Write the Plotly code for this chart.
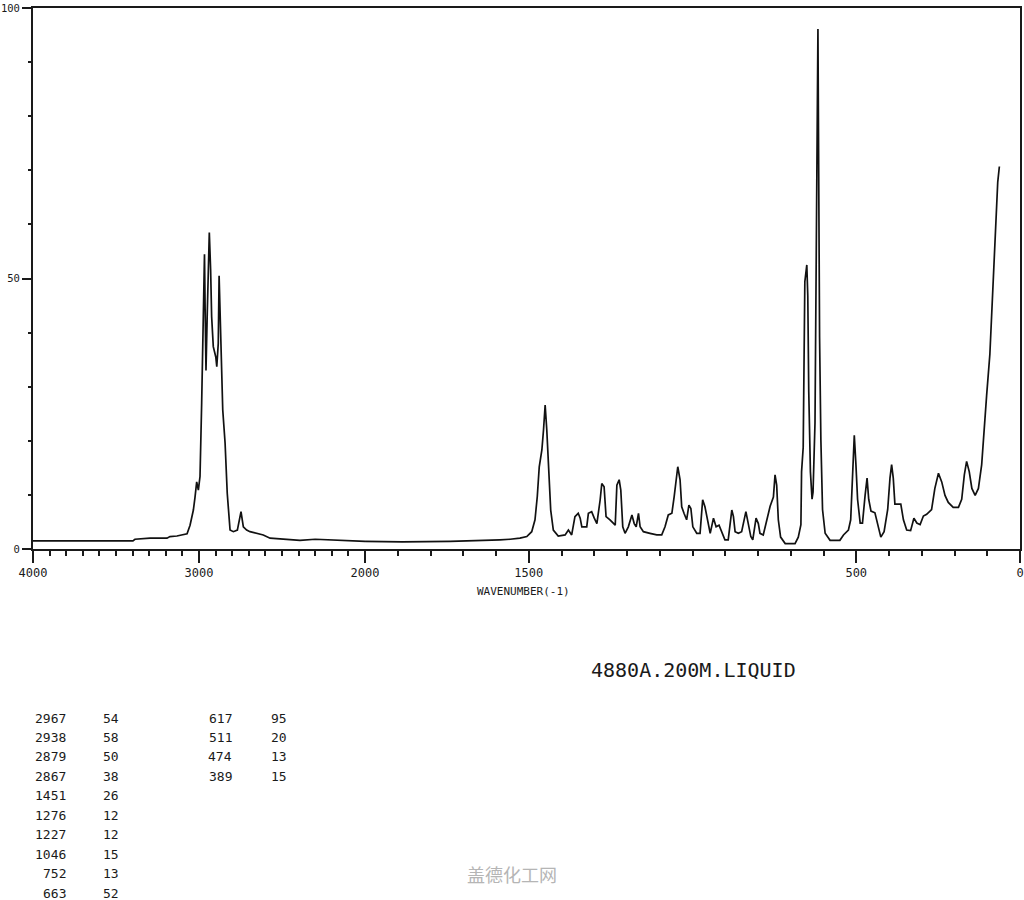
import plotly.graph_objects as go

# ---------------- data ----------------
wavenumber = [
    4000, 3398, 3386, 3313, 3295, 3193, 3175, 3133, 3096, 3072, 3054, 3034, 3024, 3014, 3004,
    2994, 2984, 2974, 2967, 2963, 2958, 2950, 2938, 2930, 2924, 2914, 2899, 2893, 2884, 2879,
    2869, 2857, 2843, 2830, 2813, 2793, 2769, 2747, 2733, 2713, 2693, 2613, 2572, 2452, 2392,
    2300, 2211, 2090, 2000,
    1886, 1740, 1649, 1588, 1557, 1527, 1506, 1491, 1481, 1474, 1468, 1460, 1455, 1450, 1445,
    1440, 1433, 1425, 1410, 1389, 1379, 1369, 1359, 1349, 1343, 1338, 1323, 1318, 1308, 1300,
    1292, 1282, 1277, 1270, 1264, 1252, 1236, 1231, 1224, 1219, 1213, 1206, 1196, 1185, 1178,
    1172, 1165, 1160, 1150, 1130, 1109, 1094, 1084, 1074, 1063, 1056, 1045, 1038, 1033, 1026,
    1018, 1011, 1005, 999, 987, 977, 969, 962, 955, 946, 936, 928, 919, 911, 901,
    891, 880, 875, 870, 860, 850, 837, 829, 822, 816, 806, 799, 794, 784, 773,
    763, 753, 748, 743, 738, 731, 717, 687, 677, 669, 667, 662, 657, 651, 648,
    645, 640, 635, 632, 626, 621, 617, 612, 608, 603, 595, 580, 550, 539, 524,
    517, 511, 506, 501, 496, 488, 481, 473, 467, 462, 455, 443, 434, 425, 415,
    404, 397, 392, 387, 382, 364, 356, 346, 334, 324, 315, 305, 295, 285, 270,
    260, 249, 239, 229, 219, 204, 188, 178, 170, 163, 155, 147, 137, 127, 117,
    112, 102, 92, 82, 73, 68, 63,
]
intensity = [
    1.5, 1.5, 1.8, 1.9, 2.0, 2.0, 2.3, 2.4, 2.6, 2.8, 4.4, 7.2, 9.6, 12.4, 10.9,
    13.4, 27.0, 44.0, 54.5, 44.0, 33.0, 44.0, 58.5, 51.6, 43.0, 37.4, 35.5, 33.7, 38.0, 50.5,
    37.5, 25.7, 19.6, 10.3, 3.5, 3.2, 3.5, 6.9, 4.1, 3.5, 3.2, 2.6, 2.0, 1.8, 1.6,
    1.8, 1.7, 1.5, 1.4,
    1.3, 1.4, 1.5, 1.7, 1.8, 2.0, 2.3, 3.2, 5.4, 9.7, 15.2, 18.3, 22.0, 26.6, 22.0,
    15.2, 7.2, 3.5, 2.4, 2.6, 3.5, 2.6, 6.0, 6.6, 5.7, 4.1, 4.1, 6.6, 6.9, 5.7,
    4.7, 9.1, 12.1, 11.5, 6.0, 5.4, 4.4, 11.8, 12.8, 10.9, 4.1, 2.9, 4.1, 6.3, 4.7,
    4.1, 6.6, 4.1, 3.2, 2.9, 2.6, 2.6, 4.1, 6.3, 6.6, 9.7, 15.2, 12.8, 7.8, 6.6,
    5.4, 8.1, 7.5, 4.1, 2.9, 2.9, 9.1, 7.8, 5.4, 2.9, 5.7, 4.1, 4.4, 3.2, 1.7,
    1.7, 7.2, 6.0, 3.2, 2.9, 3.2, 6.9, 4.7, 2.3, 1.7, 5.7, 4.7, 2.9, 2.6, 5.7,
    7.9, 9.6, 13.7, 11.8, 5.4, 2.2, 1.0, 1.0, 2.2, 4.5, 14.3, 18.8, 49.4, 52.5, 46.8,
    29.0, 14.3, 9.2, 10.5, 23.3, 63.3, 96.1, 39.2, 20.1, 7.3, 2.9, 1.6, 1.6, 2.6, 3.5,
    5.4, 15.6, 21.0, 15.6, 9.2, 4.8, 4.8, 9.9, 13.1, 9.2, 7.0, 6.7, 4.2, 2.2, 3.2,
    7.3, 13.1, 15.6, 13.1, 8.3, 8.3, 5.4, 3.5, 3.4, 5.7, 4.8, 4.5, 6.1, 6.4, 7.3,
    11.2, 14.0, 12.4, 9.9, 8.6, 7.7, 7.7, 9.2, 13.7, 16.2, 14.3, 11.2, 9.9, 11.2, 15.6,
    20.1, 28.3, 36.0, 48.7, 60.2, 67.8, 70.7,
]

peak_wn_left = ["2967", "2938", "2879", "2867", "1451", "1276", "1227", "1046", "752", "663"]
peak_int_left = ["54", "58", "50", "38", "26", "12", "12", "15", "13", "52"]
peak_wn_right = ["617", "511", "474", "389"]
peak_int_right = ["95", "20", "13", "15"]

x_ticks_high = [4000, 3000, 2000]
x_ticks_low = [1500, 500, 0]
y_ticks = [0, 50, 100]

sample_label = "4880A.200M.LIQUID"
x_title = "WAVENUMBER(-1)"
watermark = "盖德化工网"

# ---------------- figure ----------------
MONO = "DejaVu Sans Mono, Liberation Mono, monospace"
INK = "#1a1a1a"
split = 0.3364  # 2000 cm-1 break in the plotted scale

hi_x = [w for w in wavenumber if w >= 2000]
hi_y = [v for w, v in zip(wavenumber, intensity) if w >= 2000]
lo_x = [w for w in wavenumber if w <= 2000]
lo_y = [v for w, v in zip(wavenumber, intensity) if w <= 2000]

fig = go.Figure()
fig.add_trace(go.Scatter(x=hi_x, y=hi_y, mode="lines", xaxis="x", yaxis="y",
                         line=dict(color="#111111", width=1.7), hoverinfo="skip"))
fig.add_trace(go.Scatter(x=lo_x, y=lo_y, mode="lines", xaxis="x2", yaxis="y2",
                         line=dict(color="#111111", width=1.7), hoverinfo="skip"))

tickfont = dict(family=MONO, size=12, color=INK)
base = dict(showline=True, linewidth=2, linecolor=INK, showgrid=False, zeroline=False,
            automargin=False, tickcolor=INK, tickwidth=1.5)
minor_x = dict(ticks="outside", dtick=100, tick0=0, ticklen=5, tickwidth=1.5, tickcolor=INK)

fig.update_layout(
    template="none",
    width=1024, height=900,
    margin=dict(l=33, r=4, t=8, b=351, pad=0),
    paper_bgcolor="white", plot_bgcolor="white",
    showlegend=False,
    xaxis=dict(domain=[0, split], range=[4000, 2000], anchor="y", mirror=True,
               ticks="outside", ticklen=12, tickmode="array", tickvals=x_ticks_high,
               ticktext=[str(v) for v in x_ticks_high], minor=minor_x,
               tickfont=tickfont, **base),
    xaxis2=dict(domain=[split, 1], range=[2000, 0], anchor="y", mirror=True,
                ticks="outside", ticklen=12, tickmode="array", tickvals=x_ticks_low,
                ticktext=[str(v) for v in x_ticks_low], minor=minor_x,
                tickfont=tickfont, **base),
    yaxis=dict(domain=[0, 1], range=[0, 100], anchor="x", side="left", mirror=False,
               ticks="outside", ticklen=9, tickmode="array", tickvals=y_ticks,
               ticktext=[str(v) for v in y_ticks],
               tickfont=dict(family=MONO, size=10.5, color=INK),
               minor=dict(ticks="outside", dtick=10, tick0=0, ticklen=3,
                          tickwidth=1.5, tickcolor=INK),
               **base),
    yaxis2=dict(domain=[0, 1], range=[0, 100], anchor="x2", side="right",
                overlaying="y", mirror=False, ticks="", showticklabels=False, **base),
)

# plot area in page pixels: x 33..1020, y 8..549
def px_x(px):
    return (px - 33) / 987.0

def px_y(py):
    return (549 - py) / 541.0

annotations = []
annotations.append(dict(text=x_title, x=px_x(523), y=px_y(591), xref="paper", yref="paper",
                        showarrow=False, xanchor="center", yanchor="middle",
                        font=dict(family=MONO, size=11, color=INK)))
annotations.append(dict(text=sample_label, x=px_x(693), y=px_y(670), xref="paper", yref="paper",
                        showarrow=False, xanchor="center", yanchor="middle",
                        font=dict(family=MONO, size=20, color=INK)))
row0, row_step = 718, 19.45
for i, (w, v) in enumerate(zip(peak_wn_left, peak_int_left)):
    yy = px_y(row0 + i * row_step)
    annotations.append(dict(text=w, x=px_x(68), y=yy, xref="paper", yref="paper",
                            showarrow=False, xanchor="right", yanchor="middle",
                            font=dict(family=MONO, size=13, color=INK)))
    annotations.append(dict(text=v, x=px_x(121), y=yy, xref="paper", yref="paper",
                            showarrow=False, xanchor="right", yanchor="middle",
                            font=dict(family=MONO, size=13, color=INK)))
for i, (w, v) in enumerate(zip(peak_wn_right, peak_int_right)):
    yy = px_y(row0 + i * row_step)
    annotations.append(dict(text=w, x=px_x(234), y=yy, xref="paper", yref="paper",
                            showarrow=False, xanchor="right", yanchor="middle",
                            font=dict(family=MONO, size=13, color=INK)))
    annotations.append(dict(text=v, x=px_x(289), y=yy, xref="paper", yref="paper",
                            showarrow=False, xanchor="right", yanchor="middle",
                            font=dict(family=MONO, size=13, color=INK)))
annotations.append(dict(text=watermark, x=px_x(512), y=px_y(874), xref="paper", yref="paper",
                        showarrow=False, xanchor="center", yanchor="middle",
                        font=dict(family="Noto Sans CJK SC", size=18, color="#b5b5b5")))
fig.update_layout(annotations=annotations)

fig.write_html("out.html", config={"displayModeBar": False},
               post_script="document.body.style.margin='0';")
